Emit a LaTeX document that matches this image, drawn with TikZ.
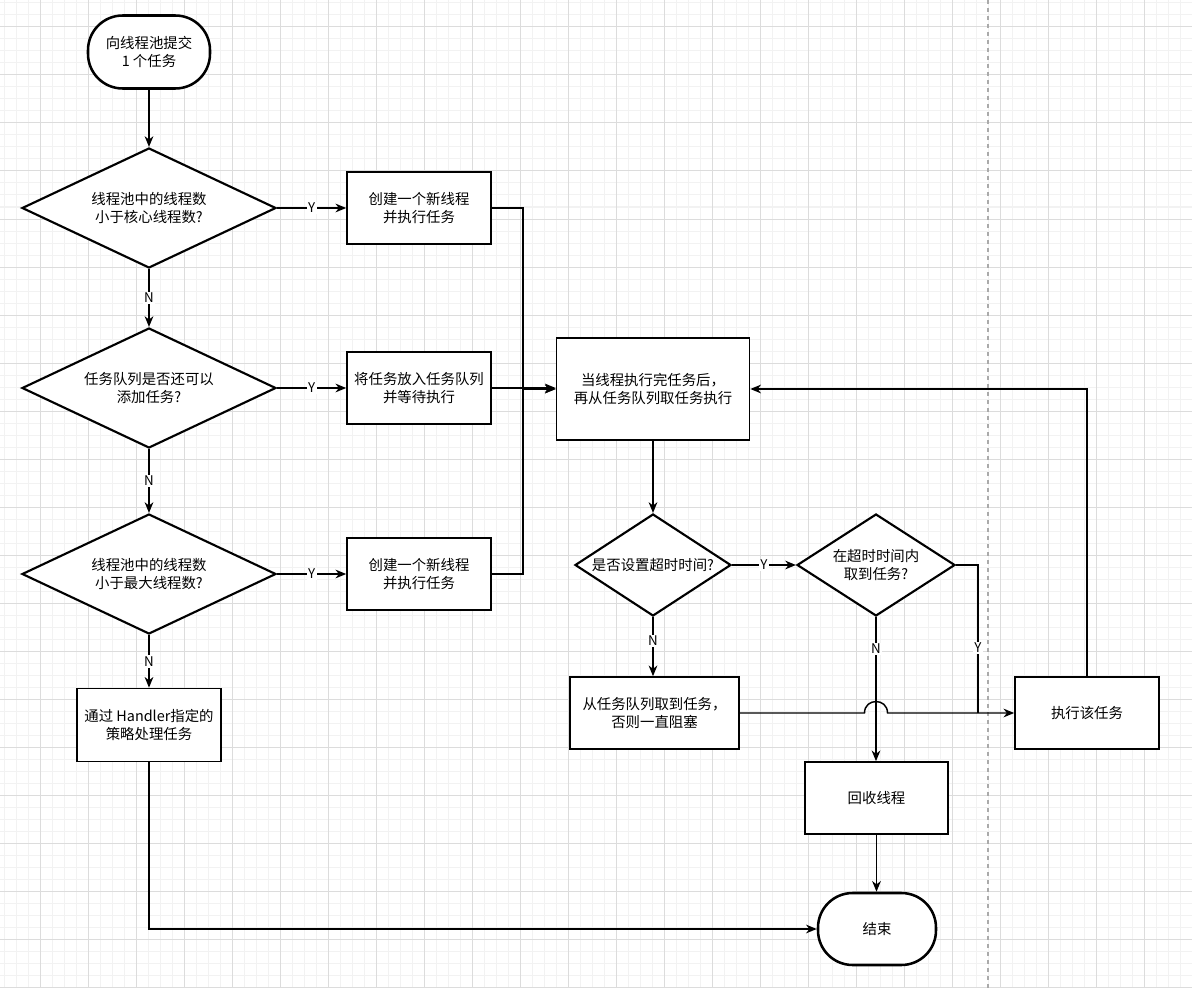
\documentclass[tikz,border=0pt]{standalone}
\usepackage{fontspec}
\setmainfont{Noto Sans CJK SC}
\usetikzlibrary{shapes.geometric,arrows.meta}
\definecolor{gmajor}{HTML}{DCDCDC}
\definecolor{gminor}{HTML}{F2F2F2}
\definecolor{dashc}{HTML}{AAAAAA}
\begin{document}
\begin{tikzpicture}[x=0.75pt,y=-0.75pt,
  txt/.style={align=center,font=\fontsize{10.8}{13.6}\selectfont},
  proc/.style={draw,line width=1.2pt,fill=white,inner sep=0pt,txt},
  dec/.style={diamond,draw,line width=1.6pt,fill=white,inner sep=0pt},
  term/.style={draw,line width=1.9pt,fill=white,inner sep=0pt,rounded corners=26pt,txt},
  conn/.style={line width=1.1pt,-{Stealth[length=8pt,width=6.5pt,inset=2.5pt]}},
  plain/.style={line width=1.1pt},
  lbl/.style={fill=white,inner sep=1pt,font=\fontsize{10}{10}\selectfont}]
\useasboundingbox (0,0) rectangle (1192,988);
\fill[white] (0,0) rectangle (1192,988);
% grid
\foreach \gx in {4,16,...,1192} \draw[gminor,line width=0.75pt] (\gx,0) -- (\gx,988);
\foreach \gy in {3,15,...,988} \draw[gminor,line width=0.75pt] (0,\gy) -- (1192,\gy);
\foreach \gx in {40,88,...,1192} \draw[gmajor,line width=0.75pt] (\gx,0) -- (\gx,988);
\foreach \gy in {27,75,...,988} \draw[gmajor,line width=0.75pt] (0,\gy) -- (1192,\gy);
\draw[dashc,line width=0.9pt,dash pattern=on 3pt off 3pt] (988,0) -- (988,988);

% nodes
\node[term,minimum width=91.5pt,minimum height=54.75pt] (start) at (149,52) {向线程池提交\\1 个任务};
\node[dec,minimum width=190.5pt,minimum height=90pt,label={[txt]center:线程池中的线程数\\小于核心线程数?}] (d1) at (149,208) {};
\node[proc,minimum width=108pt,minimum height=54pt] (b1) at (419,208) {创建一个新线程\\并执行任务};
\node[dec,minimum width=190.5pt,minimum height=90pt,label={[txt]center:任务队列是否还可以\\添加任务?}] (d2) at (149,388) {};
\node[proc,minimum width=108pt,minimum height=54pt] (b2) at (419,388) {将任务放入任务队列\\并等待执行};
\node[dec,minimum width=190.5pt,minimum height=90pt,label={[txt]center:线程池中的线程数\\小于最大线程数?}] (d3) at (149,574) {};
\node[proc,minimum width=108pt,minimum height=54pt] (b3) at (419,574) {创建一个新线程\\并执行任务};
\node[proc,minimum width=108pt,minimum height=54.75pt] (b5) at (149,725) {通过 Handler指定的\\策略处理任务};
\node[proc,minimum width=144.75pt,minimum height=76.5pt] (b4) at (653,389) {当线程执行完任务后，\\再从任务队列取任务执行};
\node[dec,minimum width=117pt,minimum height=76.5pt,label={[txt]center:是否设置超时时间?}] (d4) at (653,565) {};
\node[dec,minimum width=118.5pt,minimum height=76.5pt,label={[txt]center:在超时时间内\\取到任务?}] (d5) at (876,565) {};
\node[proc,minimum width=126.75pt,minimum height=54pt] (b6) at (654.5,713) {从任务队列取到任务，\\否则一直阻塞};
\node[proc,minimum width=108pt,minimum height=54pt] (b7) at (1087,713) {执行该任务};
\node[proc,minimum width=107.25pt,minimum height=54pt] (b8) at (876.5,798) {回收线程};
\node[term,minimum width=88.5pt,minimum height=54pt] (end) at (877,929) {结束};

% connectors
\draw[conn] (start) -- (d1);
\draw[conn] (d1) -- node[lbl]{Y} (b1);
\draw[conn] (d1) -- node[lbl]{N} (d2);
\draw[conn] (d2) -- node[lbl]{Y} (b2);
\draw[conn] (d2) -- node[lbl]{N} (d3);
\draw[conn] (d3) -- node[lbl]{Y} (b3);
\draw[conn] (d3) -- node[lbl]{N} (b5);
\draw[conn] (b1.east) -- ++(31,0) |- (b4.west);
\draw[conn] (b2.east) -- (b4.west |- b2.east);
\draw[conn] (b3.east) -- ++(31,0) |- (b4.west);
\draw[conn] (b5.south) |- (end.west);
\draw[conn] (b4.south) -- (d4.north);
\draw[conn] (d4) -- node[lbl]{Y} (d5);
\draw[conn] (d4.south) -- node[lbl,pos=0.4]{N} (d4.south |- b6.north);
\draw[conn] (d5.south) -- node[lbl,pos=0.22]{N} (d5.south |- b8.north);
\coordinate (jr) at (978,565);
\coordinate (jb) at (978,713);
\draw[plain] (d5.east) -- (jr) -- node[lbl,pos=0.56]{Y} (jb);
\coordinate (h1) at (864.5,713);
\coordinate (h2) at (887.5,713);
\draw[conn] (b6.east) -- (h1) .. controls (864.5,697.7) and (887.5,697.7) .. (h2) -- (b7.west);
\draw[conn] (b7.north) |- (b4.east);
\draw[conn] (b8.south) -- (b8.south |- end.north);
\end{tikzpicture}
\end{document}
